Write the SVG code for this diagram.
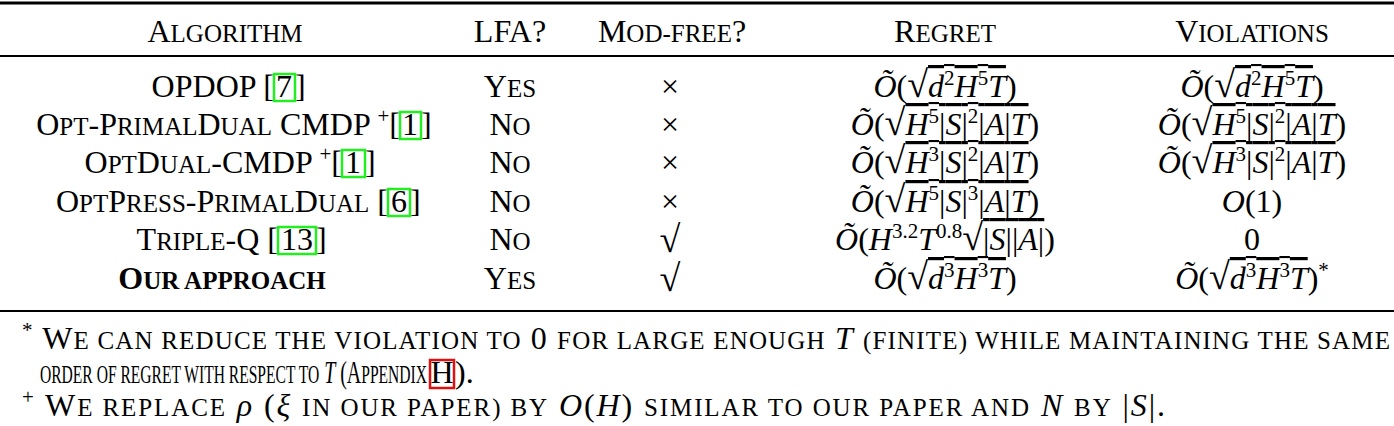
<svg xmlns="http://www.w3.org/2000/svg" width="1394" height="426" viewBox="0 0 1394 426">
<style>
text{font-family:"Liberation Serif","DejaVu Serif",serif;font-size:32px;fill:#000;text-anchor:middle}
.sc{font-size:25px}
.m{font-style:italic}
.sup{font-size:21px}
.rt{font-size:38px}
.ov{text-decoration:overline}
.e{text-anchor:end}
.s{text-anchor:start}
.ref{fill:none;stroke:#22ee22;stroke-width:2.5}
.refr{fill:none;stroke:#e01010;stroke-width:2.5}
.fn{text-anchor:start}
</style>
<rect width="1394" height="426" fill="#fff"/>
<g id="rules" stroke="#000">
<line x1="0" y1="3" x2="1394" y2="3" stroke-width="3"/>
<line x1="0" y1="56" x2="1394" y2="56" stroke-width="2"/>
<line x1="0" y1="311" x2="1394" y2="311" stroke-width="2"/>
</g>
<g id="header">
<text x="225" y="42">A<tspan class="sc">LGORITHM</tspan></text>
<text x="510" y="42">LFA?</text>
<text x="672" y="42">M<tspan class="sc">OD-FREE</tspan>?</text>
<text x="945" y="42">R<tspan class="sc">EGRET</tspan></text>
<text x="1252" y="42">V<tspan class="sc">IOLATIONS</tspan></text>
</g>
<g id="col-algorithm">
<text class="e" x="274" y="97">OPDOP [</text><text x="284" y="97">7</text><text class="s" x="295" y="97">]</text>
<rect class="ref" x="274" y="74" width="21" height="27"/>
<text class="e" x="400" y="135">O<tspan class="sc">PT</tspan>-P<tspan class="sc">RIMAL</tspan>D<tspan class="sc">UAL</tspan> CMDP <tspan class="sup" dy="-12">+</tspan><tspan dy="12">[</tspan></text><text x="410" y="135">1</text><text class="s" x="421" y="135">]</text>
<rect class="ref" x="400" y="112" width="21" height="27"/>
<text class="e" x="342" y="173">O<tspan class="sc">PT</tspan>D<tspan class="sc">UAL</tspan>-CMDP <tspan class="sup" dy="-12">+</tspan><tspan dy="12">[</tspan></text><text x="353" y="173">1</text><text class="s" x="365" y="173">]</text>
<rect class="ref" x="342" y="150" width="23" height="27"/>
<text class="e" x="388" y="212">O<tspan class="sc">PT</tspan>P<tspan class="sc">RESS</tspan>-P<tspan class="sc">RIMAL</tspan>D<tspan class="sc">UAL</tspan> [</text><text x="399" y="212">6</text><text class="s" x="410" y="212">]</text>
<rect class="ref" x="388" y="189" width="22" height="27"/>
<text class="e" x="278" y="250">T<tspan class="sc">RIPLE</tspan>-Q [</text><text x="297" y="250">13</text><text class="s" x="316" y="250">]</text>
<rect class="ref" x="278" y="227" width="38" height="27"/>
<text x="222" y="289" font-weight="bold">O<tspan class="sc">UR APPROACH</tspan></text>
</g>
<g id="col-lfa">
<text x="510" y="97">Y<tspan class="sc">ES</tspan></text>
<text x="510" y="135">N<tspan class="sc">O</tspan></text>
<text x="510" y="173">N<tspan class="sc">O</tspan></text>
<text x="510" y="212">N<tspan class="sc">O</tspan></text>
<text x="510" y="250">N<tspan class="sc">O</tspan></text>
<text x="510" y="289">Y<tspan class="sc">ES</tspan></text>
</g>
<g id="col-modfree">
<text x="670" y="97">×</text>
<text x="670" y="135">×</text>
<text x="670" y="173">×</text>
<text x="670" y="212">×</text>
<text x="670" y="252" class="rt">√</text>
<text x="670" y="291" class="rt">√</text>
</g>
<g id="col-regret">
<text x="945" y="97"><tspan class="m">Õ</tspan>(<tspan class="rt">√</tspan><tspan class="ov"><tspan class="m">d</tspan><tspan class="sup" dy="-12">2</tspan><tspan class="m" dy="12">H</tspan><tspan class="sup" dy="-12">5</tspan><tspan class="m" dy="12">T</tspan></tspan>)</text>
<text x="945" y="135"><tspan class="m">Õ</tspan>(<tspan class="rt">√</tspan><tspan class="ov"><tspan class="m">H</tspan><tspan class="sup" dy="-12">5</tspan><tspan dy="12">|</tspan><tspan class="m">S</tspan>|<tspan class="sup" dy="-12">2</tspan><tspan dy="12">|</tspan><tspan class="m">A</tspan>|<tspan class="m">T</tspan></tspan>)</text>
<text x="945" y="173"><tspan class="m">Õ</tspan>(<tspan class="rt">√</tspan><tspan class="ov"><tspan class="m">H</tspan><tspan class="sup" dy="-12">3</tspan><tspan dy="12">|</tspan><tspan class="m">S</tspan>|<tspan class="sup" dy="-12">2</tspan><tspan dy="12">|</tspan><tspan class="m">A</tspan>|<tspan class="m">T</tspan></tspan>)</text>
<text x="945" y="212"><tspan class="m">Õ</tspan>(<tspan class="rt">√</tspan><tspan class="ov"><tspan class="m">H</tspan><tspan class="sup" dy="-12">5</tspan><tspan dy="12">|</tspan><tspan class="m">S</tspan>|<tspan class="sup" dy="-12">3</tspan><tspan dy="12">|</tspan><tspan class="m">A</tspan>|<tspan class="m">T</tspan></tspan>)</text>
<text x="945" y="250"><tspan class="m">Õ</tspan>(<tspan class="m">H</tspan><tspan class="sup" dy="-12">3.2</tspan><tspan class="m" dy="12">T</tspan><tspan class="sup" dy="-12">0.8</tspan><tspan class="rt" dy="12">√</tspan><tspan class="ov">|<tspan class="m">S</tspan>||<tspan class="m">A</tspan>|</tspan>)</text>
<text x="945" y="289"><tspan class="m">Õ</tspan>(<tspan class="rt">√</tspan><tspan class="ov"><tspan class="m">d</tspan><tspan class="sup" dy="-12">3</tspan><tspan class="m" dy="12">H</tspan><tspan class="sup" dy="-12">3</tspan><tspan class="m" dy="12">T</tspan></tspan>)</text>
</g>
<g id="col-violations">
<text x="1252" y="97"><tspan class="m">Õ</tspan>(<tspan class="rt">√</tspan><tspan class="ov"><tspan class="m">d</tspan><tspan class="sup" dy="-12">2</tspan><tspan class="m" dy="12">H</tspan><tspan class="sup" dy="-12">5</tspan><tspan class="m" dy="12">T</tspan></tspan>)</text>
<text x="1252" y="135"><tspan class="m">Õ</tspan>(<tspan class="rt">√</tspan><tspan class="ov"><tspan class="m">H</tspan><tspan class="sup" dy="-12">5</tspan><tspan dy="12">|</tspan><tspan class="m">S</tspan>|<tspan class="sup" dy="-12">2</tspan><tspan dy="12">|</tspan><tspan class="m">A</tspan>|<tspan class="m">T</tspan></tspan>)</text>
<text x="1252" y="173"><tspan class="m">Õ</tspan>(<tspan class="rt">√</tspan><tspan class="ov"><tspan class="m">H</tspan><tspan class="sup" dy="-12">3</tspan><tspan dy="12">|</tspan><tspan class="m">S</tspan>|<tspan class="sup" dy="-12">2</tspan><tspan dy="12">|</tspan><tspan class="m">A</tspan>|<tspan class="m">T</tspan></tspan>)</text>
<text x="1252" y="212"><tspan class="m">O</tspan>(1)</text>
<text x="1252" y="250">0</text>
<text x="1252" y="289"><tspan class="m">Õ</tspan>(<tspan class="rt">√</tspan><tspan class="ov"><tspan class="m">d</tspan><tspan class="sup" dy="-12">3</tspan><tspan class="m" dy="12">H</tspan><tspan class="sup" dy="-12">3</tspan><tspan class="m" dy="12">T</tspan></tspan>)<tspan class="sup" dy="-12">*</tspan></text>
</g>
<g id="footnotes">
<text class="fn" x="22" y="349" textLength="1368" lengthAdjust="spacing"><tspan class="sup" dy="-12">*</tspan><tspan dy="12"> W</tspan><tspan class="sc">E CAN REDUCE THE VIOLATION TO</tspan> 0 <tspan class="sc">FOR LARGE ENOUGH</tspan> <tspan class="m">T</tspan> <tspan class="sc">(FINITE) WHILE MAINTAINING THE SAME</tspan></text>
<text class="s" x="40" y="383" textLength="387" lengthAdjust="spacingAndGlyphs"><tspan class="sc">ORDER OF REGRET WITH RESPECT TO</tspan> <tspan class="m">T</tspan> (A<tspan class="sc">PPENDIX</tspan></text><text x="442" y="383">H</text><text class="s" x="455" y="383">).</text>
<rect class="refr" x="430" y="360" width="24" height="28"/>
<text class="fn" x="22" y="416" textLength="1143" lengthAdjust="spacing"><tspan class="sup" dy="-12">+</tspan><tspan dy="12"> W</tspan><tspan class="sc">E REPLACE</tspan> <tspan class="m">ρ</tspan> (<tspan class="m">ξ</tspan> <tspan class="sc">IN OUR PAPER) BY</tspan> <tspan class="m">O</tspan>(<tspan class="m">H</tspan>) <tspan class="sc">SIMILAR TO OUR PAPER AND</tspan> <tspan class="m">N</tspan> <tspan class="sc">BY</tspan> |<tspan class="m">S</tspan>|.</text>
</g>
</svg>
